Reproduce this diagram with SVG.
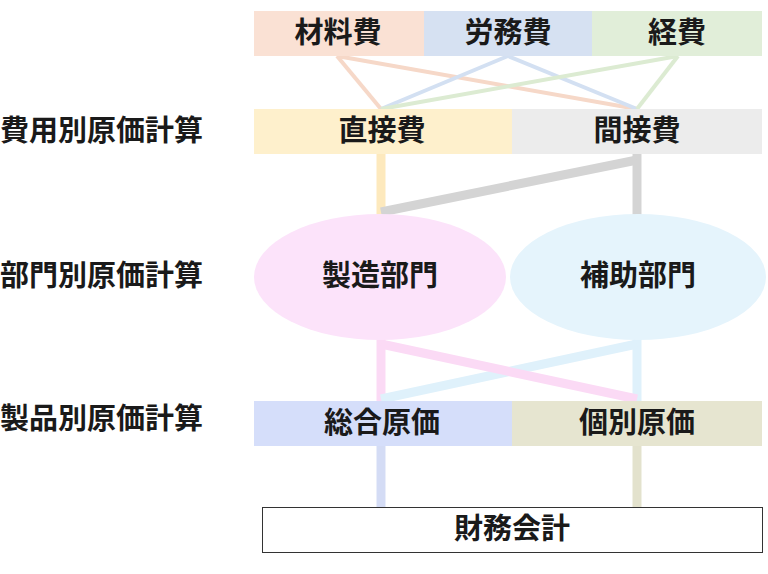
<svg xmlns="http://www.w3.org/2000/svg" width="768" height="574" viewBox="0 0 768 574">
<style>
text{font-family:"Liberation Sans","Noto Sans CJK JP",sans-serif;font-weight:bold;fill:#1a1a1a;text-anchor:middle;dominant-baseline:central;font-size:29px}
.lab{text-anchor:start;font-size:29px}
line{fill:none}
.t{stroke-width:4}
.m{stroke-width:9}
</style>
<rect width="768" height="574" fill="#fff"/>
<g id="connectors">
<line class="t" x1="337" y1="56" x2="381" y2="109" stroke="#f6d8c8"/>
<line class="t" x1="337" y1="56" x2="637" y2="109" stroke="#f6d8c8"/>
<line class="t" x1="508" y1="56" x2="381" y2="109" stroke="#d3e0f2"/>
<line class="t" x1="508" y1="56" x2="637" y2="109" stroke="#d3e0f2"/>
<line class="t" x1="678" y1="56" x2="381" y2="109" stroke="#dcebd2"/>
<line class="t" x1="678" y1="56" x2="637" y2="109" stroke="#dcebd2"/>
<line class="m" x1="381" y1="154" x2="381" y2="216" stroke="#fde9bd"/>
<line class="m" x1="637" y1="154" x2="637" y2="216" stroke="#d4d4d4"/>
<line class="m" x1="637" y1="160" x2="381" y2="212" stroke="#d4d4d4"/>
<line class="m" x1="381" y1="338" x2="381" y2="401" stroke="#fbdaf5"/>
<line class="m" x1="637" y1="338" x2="637" y2="401" stroke="#dff1fb"/>
<line class="m" x1="637" y1="344" x2="381" y2="399" stroke="#dff1fb"/>
<line class="m" x1="381" y1="344" x2="637" y2="399" stroke="#fbdaf5"/>
<line class="m" x1="381" y1="446" x2="381" y2="507" stroke="#d4dcf5"/>
<line class="m" x1="637" y1="446" x2="637" y2="507" stroke="#e3e2cd"/>
</g>
<g id="labels">
<text class="lab" x="0" y="131">費用別原価計算</text>
<text class="lab" x="0" y="276">部門別原価計算</text>
<text class="lab" x="0" y="419">製品別原価計算</text>
</g>
<g id="n1"><rect x="254" y="11" width="170" height="45" fill="#fae1d4"/><text x="338" y="33">材料費</text></g>
<g id="n2"><rect x="424" y="11" width="168" height="45" fill="#d6e1f2"/><text x="508" y="33">労務費</text></g>
<g id="n3"><rect x="592" y="11" width="170" height="45" fill="#e1eed9"/><text x="677" y="33">経費</text></g>
<g id="n4"><rect x="254" y="109" width="258" height="45" fill="#fef0cc"/><text x="382" y="131">直接費</text></g>
<g id="n5"><rect x="512" y="109" width="250" height="45" fill="#ececec"/><text x="637" y="131">間接費</text></g>
<g id="n6"><ellipse cx="380" cy="277" rx="126" ry="63" fill="#fce3fa"/><text x="380" y="276">製造部門</text></g>
<g id="n7"><ellipse cx="638" cy="277" rx="128" ry="63" fill="#e5f4fc"/><text x="638" y="276">補助部門</text></g>
<g id="n8"><rect x="254" y="401" width="258" height="45" fill="#d5defa"/><text x="382" y="423">総合原価</text></g>
<g id="n9"><rect x="512" y="401" width="250" height="45" fill="#e6e5d0"/><text x="637" y="423">個別原価</text></g>
<g id="n10"><rect x="262.5" y="507.5" width="500" height="45" fill="#fff" stroke="#333" stroke-width="1"/><text x="512" y="529">財務会計</text></g>
</svg>
